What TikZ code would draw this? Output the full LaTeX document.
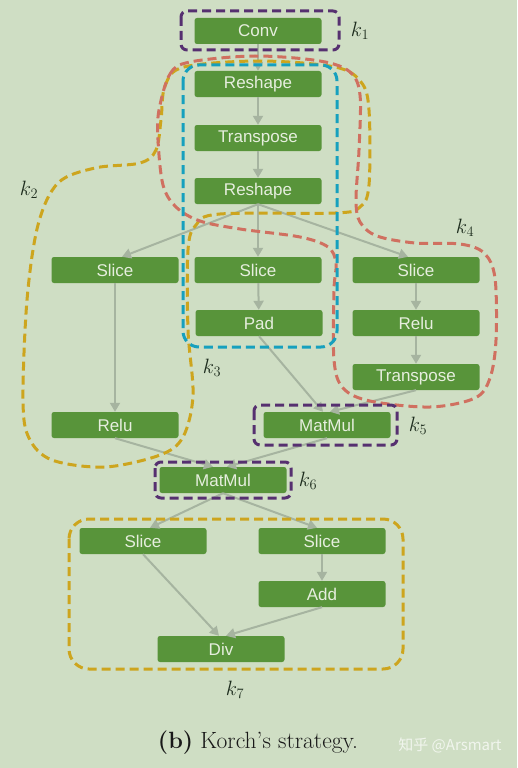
\documentclass[tikz,border=0pt]{standalone}
\usepackage{fontspec}
\newfontfamily\nodefont{Liberation Sans}
\newfontfamily\cjk{Noto Sans CJK SC}
\usetikzlibrary{arrows.meta}
\definecolor{bgc}{RGB}{207,222,196}
\definecolor{boxc}{RGB}{88,148,58}
\definecolor{txtc}{RGB}{230,238,222}
\definecolor{arrc}{RGB}{166,180,160}
\definecolor{purp}{RGB}{86,48,112}
\definecolor{yel}{RGB}{205,165,30}
\definecolor{redc}{RGB}{208,112,96}
\definecolor{cyn}{RGB}{22,160,190}
\definecolor{labc}{RGB}{30,45,30}
\tikzset{
  op/.style={fill=boxc, rounded corners=2.5pt, minimum width=127pt, minimum height=26pt, inner sep=0pt, text=txtc, font=\nodefont\fontsize{17}{19}\selectfont},
  flow/.style={draw=arrc, line width=2pt, -{Triangle[width=10pt,length=9pt]}},
  grp/.style={line width=3pt, dash pattern=on 9pt off 5pt},
  lab/.style={text=labc, font=\fontsize{21}{25}\selectfont}
}
\begin{document}
\begin{tikzpicture}[x=1pt,y=-1pt]
\fill[bgc] (0,0) rectangle (517,768);
\useasboundingbox (0,0) rectangle (517,768);
% nodes
\node[op] (conv) at (258,31) {Conv};
\node[op] (r1) at (258,84) {Reshape};
\node[op] (tr) at (258,138) {Transpose};
\node[op] (r2) at (258,191) {Reshape};
\node[op] (sl) at (115,270) {Slice};
\node[op] (sm) at (258,270) {Slice};
\node[op] (sr) at (416,270) {Slice};
\node[op] (pad) at (259,323) {Pad};
\node[op] (relur) at (416,323) {Relu};
\node[op] (trr) at (416,377) {Transpose};
\node[op] (relul) at (115,425) {Relu};
\node[op] (mm5) at (327,425) {MatMul};
\node[op] (mm6) at (223,480) {MatMul};
\node[op] (sbl) at (143,541) {Slice};
\node[op] (sbr) at (322,541) {Slice};
\node[op] (add) at (322,594) {Add};
\node[op] (div) at (221,649) {Div};
% edges
\draw[flow] (conv) -- (r1);
\draw[flow] (r1) -- (tr);
\draw[flow] (tr) -- (r2);
\draw[flow] (r2.south) -- ([xshift=7pt]sl.north);
\draw[flow] (r2.south) -- (sm.north);
\draw[flow] (r2.south) -- ([xshift=-8pt]sr.north);
\draw[flow] (sl) -- (relul);
\draw[flow] (sm) -- (pad);
\draw[flow] (sr) -- (relur);
\draw[flow] (relur) -- (trr);
\draw[flow] (pad.south) -- ([xshift=-4pt]mm5.north);
\draw[flow] (trr.south) -- ([xshift=3pt]mm5.north);
\draw[flow] (relul.south) -- ([xshift=-10pt]mm6.north);
\draw[flow] (mm5.south) -- ([xshift=4pt]mm6.north);
\draw[flow] (mm6.south) -- ([xshift=7pt]sbl.north);
\draw[flow] (mm6.south) -- ([xshift=-5pt]sbr.north);
\draw[flow] (sbl.south) -- ([xshift=-2pt]div.north);
\draw[flow] (sbr) -- (add);
\draw[flow] (add.south) -- ([xshift=5pt]div.north);
% groups
\draw[grp, draw=yel] plot[smooth cycle, tension=0.55] coordinates {
 (161,120) (165,86) (184,67) (260,61) (335,67) (361,82) (369,110) (369,185) (360,207) (335,213)
 (220,214) (196,225) (188,250) (188,330) (193,395) (183,437) (160,455) (105,467) (52,460)
 (29,438) (23,400) (27,300) (38,225) (58,183) (95,168) (140,163) (156,150)};
\draw[grp, draw=redc] plot[smooth cycle, tension=0.55] coordinates {
 (159,110) (170,74) (190,62) (255,56) (320,61) (350,72) (360,95) (359,150) (356,200) (360,222)
 (377,236) (415,243) (460,244) (484,253) (495,278) (496,340) (490,378) (475,398) (430,407)
 (370,401) (343,388) (334,360) (334,290) (336,263) (328,247) (300,237) (240,229) (200,221)
 (176,207) (163,185) (158,140)};
\draw[grp, draw=cyn, rounded corners=16pt] (183,65) rectangle (337,347);
\draw[grp, draw=purp, rounded corners=6pt] (181,11) rectangle (339,50);
\draw[grp, draw=purp, rounded corners=6pt] (254,405) rectangle (397,445);
\draw[grp, draw=purp, rounded corners=6pt] (155,462) rectangle (291,498);
\draw[grp, draw=yel, rounded corners=20pt] (69,519) rectangle (403,669);
% labels
\node[lab] (k1) at (360,31) {$k_1$};
\node[lab] (k2) at (29,190) {$k_2$};
\node[lab] (k3) at (212,368) {$k_3$};
\node[lab] (k4) at (465,228) {$k_4$};
\node[lab] (k5) at (418,426) {$k_5$};
\node[lab] (k6) at (308,481) {$k_6$};
\node[lab] (k7) at (235,690) {$k_7$};
\node[text=black!90, font=\fontsize{23.5}{28}\selectfont] (cap) at (258,743) {\textbf{(b)} Korch’s strategy.};
\node[text=white, opacity=0.7, font=\cjk\fontsize{15}{17}\selectfont] (wm) at (450,745) {知乎 @Arsmart};
\end{tikzpicture}
\end{document}
